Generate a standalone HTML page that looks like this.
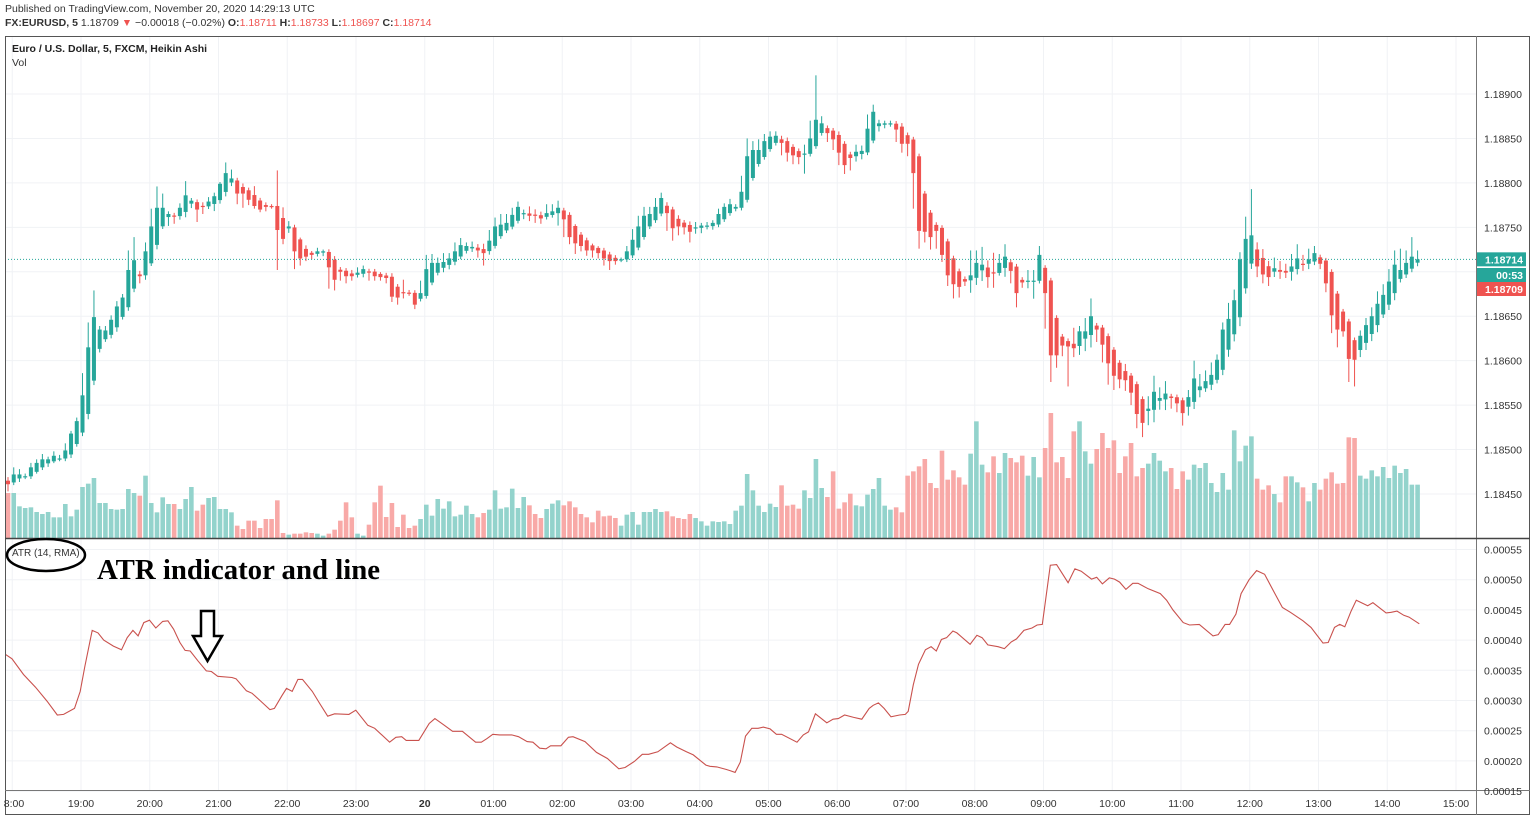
<!DOCTYPE html>
<html><head><meta charset="utf-8"><style>
body{margin:0;background:#fff;width:1536px;height:820px;overflow:hidden;font-family:"Liberation Sans",sans-serif;}
#hdr1{position:absolute;left:5px;top:3px;font-size:10.5px;color:#333;}
#hdr2{position:absolute;left:5px;top:17px;font-size:10.5px;color:#333;}
.r{color:#ef5350}
svg{position:absolute;left:0;top:0}
</style></head><body>
<div id="hdr1">Published on TradingView.com, November 20, 2020 14:29:13 UTC</div>
<div id="hdr2"><b>FX:EURUSD, 5</b> 1.18709 <span class="r">▼</span> −0.00018 (−0.02%) <b>O:</b><span class="r">1.18711</span> <b>H:</b><span class="r">1.18733</span> <b>L:</b><span class="r">1.18697</span> <b>C:</b><span class="r">1.18714</span></div>
<svg id="chart" width="1536" height="820"></svg>
<script>
const closePts=[118461,118472,118472,118470,118480,118485,118489,118489,118493,118490,
118499,118518,118532,118561,118615,118649,118635,118634,118646,118661,
118671,118702,118713,118695,118723,118751,118772,118772,118765,118762,
118772,118786,118780,118770,118773,118779,118785,118799,118811,118805,
118788,118788,118781,118774,118770,118773,118774,118747,118737,118751,
118723,118715,118717,118719,118723,118723,118705,118691,118700,118695,
118695,118699,118703,118700,118695,118694,118693,118672,118671,118676,
118676,118663,118676,118703,118710,118710,118711,118715,118723,118730,
118729,118728,118724,118721,118735,118751,118753,118755,118764,118773,
118766,118763,118763,118760,118766,118768,118772,118759,118739,118732,
118729,118724,118724,118721,118715,118712,118712,118714,118723,118736,
118751,118763,118765,118773,118783,118766,118749,118751,118750,118745,
118750,118752,118752,118755,118765,118773,118776,118773,118790,118830,
118837,118837,118847,118852,118853,118845,118834,118831,118829,118833,
118850,118871,118867,118856,118849,118834,118820,118828,118835,118836,
118861,118880,118867,118867,118867,118860,118844,118844,118811,118746,
118745,118739,118746,118719,118696,118686,118683,118689,118696,118710,
118708,118694,118698,118710,118717,118701,118676,118688,118690,118690,
118719,118676,118606,118606,118617,118616,118614,118633,118633,118650,
118635,118618,118597,118583,118579,118578,118564,118540,118530,118546,
118565,118558,118563,118558,118552,118541,118559,118580,118571,118577,
118584,118601,118635,118647,118668,118714,118737,118741,118706,118697,
118694,118704,118700,118699,118706,118715,118709,118714,118721,118709,
118687,118651,118635,118633,118602,118601,118628,118640,118650,118664,
118674,118689,118708,118702,118710,118717,118714];
const wickUp=[4,8,6,3,5,4,6,3,5,4,8,3,4,25,28,30,4,5,5,6,4,22,26,4,10,20,24,16,3,3,5,16,3,3,4,5,4,2,12,10,3,4,3,10,3,3,2,40,12,6,3,2,4,2,4,2,3,4,3,3,4,6,4,3,3,2,3,4,3,14,3,3,14,16,10,6,10,6,10,8,4,6,4,6,12,10,12,10,8,6,4,8,6,4,10,8,8,3,3,2,3,3,2,2,3,3,3,2,6,12,12,10,8,10,6,4,3,4,3,4,6,3,4,3,6,4,6,3,18,20,10,12,8,6,5,4,4,3,3,10,20,50,8,3,3,4,3,3,8,6,16,8,4,3,3,3,4,3,3,3,3,3,3,3,3,3,3,3,28,14,20,8,22,10,14,3,3,3,12,12,10,3,3,3,3,3,18,6,15,20,3,3,3,3,3,8,3,3,3,14,18,12,14,3,3,3,8,20,14,12,14,6,8,18,12,8,25,52,8,10,6,12,10,8,14,16,10,12,8,3,3,3,3,3,3,3,6,8,10,14,12,14,16,24,14,22,10];
const wickDn=[8,3,4,3,3,2,3,4,2,3,3,4,3,4,6,5,4,3,4,5,3,4,4,8,5,3,5,3,10,8,4,6,5,14,8,3,8,4,5,4,12,16,6,3,3,5,3,45,6,5,20,8,5,5,3,4,24,12,10,8,5,3,4,10,5,4,6,6,8,6,3,5,3,3,3,3,5,5,4,3,3,4,8,14,4,3,3,3,3,3,6,6,8,6,3,3,14,20,8,12,6,6,8,6,8,10,4,3,3,3,3,3,3,3,3,20,14,10,8,12,6,6,3,4,3,3,3,3,3,3,3,3,3,3,3,14,10,10,8,22,3,3,3,10,12,14,10,14,6,6,3,3,6,4,3,14,10,14,40,20,12,14,20,8,12,16,12,5,14,8,12,12,16,3,10,14,16,6,8,20,3,40,30,14,12,45,10,10,14,14,14,20,24,16,10,12,14,16,16,16,14,10,12,12,10,14,10,8,8,4,6,4,6,8,8,10,6,6,12,10,10,6,8,6,10,6,8,6,4,6,10,20,20,6,26,30,8,8,8,8,4,6,8,4,4,4,4];
const volume=[135,135,95,90,92,78,72,78,62,62,102,65,85,153,163,180,105,105,87,85,87,147,135,127,187,105,77,122,102,102,87,117,153,82,100,120,123,87,87,77,37,27,52,52,30,57,57,113,15,10,13,13,17,15,13,7,13,25,52,107,62,13,7,40,107,157,63,105,33,70,30,37,57,100,67,117,88,110,65,70,97,72,62,75,85,143,88,92,148,90,123,98,72,60,87,103,113,98,110,92,72,62,47,82,65,67,60,37,70,78,40,78,78,87,78,80,65,60,57,72,60,50,37,50,48,50,42,82,97,192,143,97,78,103,93,158,97,100,88,143,120,237,150,123,200,88,107,133,98,95,130,147,180,97,85,92,77,187,200,215,237,165,150,262,175,203,182,160,253,350,220,197,245,195,255,240,227,247,187,243,182,270,375,227,243,180,320,350,260,223,267,315,270,293,195,245,285,185,210,223,255,232,200,210,147,200,175,220,210,225,165,138,195,145,323,230,277,305,178,145,158,132,107,185,185,167,152,110,165,145,178,197,163,165,302,300,187,178,203,185,213,180,217,195,207,160,160];
const atrT=[-0.4,0.7,2.7,4.8,6.8,8.6,9.7,11.6,12.6,13.4,14.7,15.7,16.7,18.4,19.8,20.8,21.8,22.7,23.7,24.7,25.8,27.0,27.9,28.9,30.0,30.9,31.8,33.2,34.6,35.5,36.6,39.1,39.8,41.6,42.6,44.1,45.7,46.5,47.8,48.6,49.6,50.6,51.4,53.1,54.4,55.8,57.0,59.5,60.7,62.8,64.0,66.6,67.7,68.7,69.5,71.7,73.5,74.5,76.0,77.6,79.3,81.6,82.6,83.6,84.6,85.8,87.9,89.1,90.6,91.6,92.8,93.9,94.7,96.5,97.8,98.6,100.7,102.7,104.6,106.6,107.7,109.3,110.7,111.8,113.4,115.6,116.7,118.4,119.6,121.8,122.5,123.7,125.3,126.0,126.9,127.8,128.7,129.8,130.9,131.8,133.0,134.1,135.0,137.7,138.8,139.7,140.9,142.9,144.0,144.9,146.0,147.6,149.0,150.3,151.0,151.9,152.9,154.1,155.6,156.6,157.1,158.0,158.9,160.1,161.1,162.0,162.9,163.8,164.9,165.6,167.9,169.1,170.0,171.0,172.8,173.9,175.1,176.0,177.3,178.7,179.6,180.5,181.9,183.0,185.0,186.2,187.3,189.1,190.0,191.0,192.2,193.1,194.0,195.1,196.3,197.2,199.0,201.1,202.2,203.3,205.1,206.2,207.9,210.3,211.2,212.4,213.2,214.3,215.2,216.6,217.9,219.3,221.1,222.4,223.8,226.0,227.4,229.5,230.4,231.5,232.4,233.3,234.4,235.3,237.3,238.2,240.5,241.4,242.4,243.6,244.5,246.3];
const atrV=[37.6,36.9,34.3,32.2,29.9,27.6,27.7,28.7,31.5,35.6,41.6,41.2,40.0,39.0,38.4,40.4,41.6,40.7,42.9,43.3,42.0,43.1,43.2,41.8,39.6,38.3,38.2,36.5,34.9,34.8,34.0,33.8,33.6,31.6,31.2,29.9,28.5,28.7,30.8,32.0,31.5,33.5,33.5,31.5,29.5,27.4,27.8,27.7,28.4,25.9,25.4,23.1,23.9,24.0,23.4,23.4,26.2,27.0,26.0,24.9,24.9,23.1,23.1,23.7,24.4,24.3,24.3,24.0,23.2,23.1,22.1,22.0,22.5,22.5,23.9,24.0,23.2,21.4,20.4,18.7,18.9,19.9,21.1,21.1,21.5,23.0,22.3,21.5,21.0,19.3,19.1,19.0,18.6,18.4,18.1,19.8,24.1,25.4,25.4,25.6,25.3,24.4,24.4,23.1,24.3,24.8,27.8,26.3,26.9,27.0,27.6,27.2,26.9,28.7,29.2,29.6,28.7,27.3,27.6,27.7,28.2,32.6,36.0,38.4,38.9,38.2,40.1,40.4,41.5,41.2,39.3,40.8,40.4,39.2,38.9,38.6,39.7,40.2,41.6,42.0,42.5,42.6,52.4,52.5,49.5,51.8,51.4,50.1,50.4,49.3,50.3,50.1,49.6,48.4,49.4,49.4,48.5,47.7,46.6,45.0,42.9,42.5,42.6,40.7,40.9,42.6,42.6,44.3,47.7,50.0,51.5,50.9,47.7,45.4,44.6,43.2,42.1,39.5,39.6,42.1,42.6,42.2,44.8,46.6,45.7,46.2,44.5,44.6,44.8,44.1,43.8,42.7];
const priceTicks=[118900,118850,118800,118750,118700,118650,118600,118550,118500,118450];
const atrTicks=[55,50,45,40,35,30,25,20,15];
const timeLabels=["8:00","19:00","20:00","21:00","22:00","23:00","20","01:00","02:00","03:00","04:00","05:00","06:00","07:00","08:00","09:00","10:00","11:00","12:00","13:00","14:00","15:00"];
const timeHours=[-1,0,1,2,3,4,5,6,7,8,9,10,11,12,13,14,15,16,17,18,19,20];

const NS="http://www.w3.org/2000/svg";
const svg=document.getElementById('chart');
function xC(i){return 8+5.73*i;}
function xH(h){return 81+68.75*h;}
function yP(p){return 94+(118900-p)*0.8889;}
function yA(v){return 549.5+(55-v)*6.04;}
function yV(v){return 538-v/3;}
function mk(tag,attrs,parent){const e=document.createElementNS(NS,tag);for(const k in attrs)e.setAttribute(k,attrs[k]);(parent||svg).appendChild(e);return e;}

const grid=mk('g',{});


timeHours.forEach(h=>{const x=xH(h);if(x>5&&x<1476){mk('line',{x1:x,x2:x,y1:37,y2:790,stroke:'#f0f2f5','stroke-width':1},grid);}});
priceTicks.forEach(p=>mk('line',{x1:5,x2:1476,y1:yP(p),y2:yP(p),stroke:'#f0f2f5'},grid));
atrTicks.forEach(v=>mk('line',{x1:5,x2:1476,y1:yA(v),y2:yA(v),stroke:'#f0f2f5'},grid));

const opens=[];opens[0]=118465;
for(let i=1;i<closePts.length;i++)opens[i]=(opens[i-1]+closePts[i-1])/2;
const vg=mk('g',{});


const cg=mk('g',{});


closePts.forEach((c,i)=>{
  const o=opens[i];const up=c>=o;
  const x=xC(i);
  const vb=mk('rect',{x:x-2.3,y:yV(volume[i]),width:4.6,height:volume[i]/3,fill:up?'#93d3cc':'#f8a9a7'},vg);
  
  
  const hi=Math.max(o,c)+wickUp[i],lo=Math.min(o,c)-wickDn[i];
  const col=up?'#26a69a':'#ef5350';
  const w=mk('line',{x1:x,x2:x,y1:yP(hi),y2:yP(lo),stroke:col,'stroke-width':1},cg);
  
  
  const t=yP(Math.max(o,c)),b=yP(Math.min(o,c));
  const r=mk('rect',{x:x-2,y:t,width:4,height:Math.max(1.2,b-t),fill:col},cg);
  
  
});

const cl=mk('line',{x1:5,x2:1476,y1:yP(118714),y2:yP(118714),stroke:'#26a69a','stroke-dasharray':'1 2','stroke-width':1});



const pts=atrT.map((t,k)=>xC(t).toFixed(1)+','+yA(atrV[k]).toFixed(1)).join(' ');
const al=mk('polyline',{points:pts,fill:'none',stroke:'#c9514d','stroke-width':1.1});



mk('rect',{x:5.5,y:36.5,width:1524,height:778,fill:'none',stroke:'#555','stroke-width':1});
mk('line',{x1:1476.5,x2:1476.5,y1:36,y2:815,stroke:'#777'});
mk('line',{x1:5,x2:1530,y1:538.5,y2:538.5,stroke:'#444','stroke-width':1.5});
mk('line',{x1:5,x2:1530,y1:790.5,y2:790.5,stroke:'#777'});

priceTicks.forEach(p=>{const t=mk('text',{x:1484,y:yP(p)+4,'font-size':10.5,fill:'#333'});t.textContent=(p/100000).toFixed(5);

});
atrTicks.forEach(v=>{const t=mk('text',{x:1484,y:yA(v)+4,'font-size':10.5,fill:'#333'});t.textContent=(v/100000).toFixed(5);

});
timeLabels.forEach((s,k)=>{let x=xH(timeHours[k]);if(k===0)x=14;const t=mk('text',{x:x,y:807,'font-size':10.5,fill:'#333','text-anchor':'middle','font-weight':s==='20'?'bold':'normal'});t.textContent=s;

});

function badge(y,txt,bg,name){const g=mk('g',{});
mk('rect',{x:1477,y:y,width:49,height:14,fill:bg},g);const t=mk('text',{x:1523,y:y+11,'font-size':10.5,fill:'#fff','text-anchor':'end','font-weight':'bold'},g);t.textContent=txt;}
badge(yP(118714)-7,'1.18714','#26a69a','last-price-badge');
badge(268,'00:53','#26a69a','countdown-badge');
badge(282,'1.18709','#ef5350','prev-close-badge');

const t1=mk('text',{x:12,y:52,'font-size':10.5,'font-weight':'bold',fill:'#222'});t1.textContent='Euro / U.S. Dollar, 5, FXCM, Heikin Ashi';


const t2=mk('text',{x:12,y:66,'font-size':10.5,fill:'#333'});t2.textContent='Vol';


const t3=mk('text',{x:12,y:556,'font-size':10,fill:'#333'});t3.textContent='ATR (14, RMA)';


const el=mk('ellipse',{cx:46,cy:555,rx:39,ry:16,fill:'none',stroke:'#000','stroke-width':2.5});


const t4=mk('text',{x:97,y:579,'font-size':28,'font-weight':'bold',fill:'#000','font-family':'Liberation Serif, serif',textLength:283,lengthAdjust:'spacingAndGlyphs'});t4.textContent='ATR indicator and line';


const ar=mk('polygon',{points:'201,611 214,611 214,636 222,636 207.5,661 193,636 201,636',fill:'#fff',stroke:'#000','stroke-width':2.5});


</script>
</body></html>
